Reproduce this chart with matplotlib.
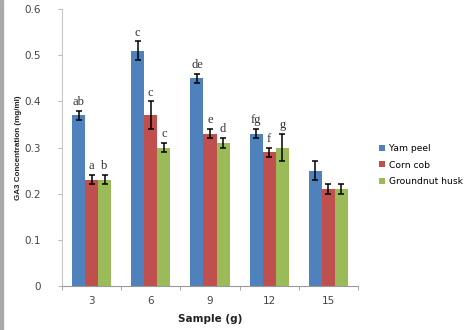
import numpy as np
import matplotlib.pyplot as plt
from matplotlib.patches import Rectangle

# GA3 yield per sample mass, three substrates
samples = ["3", "6", "9", "12", "15"]
yam_peel = [0.37, 0.51, 0.45, 0.33, 0.25]
yam_err = [0.01, 0.02, 0.01, 0.01, 0.02]
corn_cob = [0.23, 0.37, 0.33, 0.29, 0.21]
corn_err = [0.01, 0.03, 0.01, 0.01, 0.01]
groundnut = [0.23, 0.30, 0.31, 0.30, 0.21]
groundnut_err = [0.01, 0.01, 0.01, 0.03, 0.01]

# significance letters (empty = none shown)
yam_letters = ["ab", "c", "de", "fg", ""]
corn_letters = ["a", "c", "e", "f", ""]
groundnut_letters = ["b", "c", "d", "g", ""]

reihen = [
    ("Yam peel", yam_peel, yam_err, yam_letters, "#4F81BD"),
    ("Corn cob", corn_cob, corn_err, corn_letters, "#C0504D"),
    ("Groundnut husk", groundnut, groundnut_err, groundnut_letters, "#9BBB59"),
]

plt.rcParams["font.family"] = ["DejaVu Sans"]

fig = plt.figure(figsize=(4.74, 3.30), dpi=100)
ax = fig.add_axes([62 / 474, 44 / 330, 296 / 474, 277 / 330])

x = np.arange(len(samples))
breite = 0.22
for i, (name, werte, fehler, buchst, farbe) in enumerate(reihen):
    pos = x + (i - 1) * breite
    ax.bar(pos, werte, breite, color=farbe, label=name, zorder=2)
    ax.errorbar(pos, werte, yerr=fehler, fmt="none", ecolor="black",
                elinewidth=1.1, capsize=2.5, capthick=1.1, zorder=3)
    for p, w, f, b in zip(pos, werte, fehler, buchst):
        if b:
            ax.text(p, w + f + 0.006, b, ha="center", va="bottom",
                    family="Liberation Serif", fontsize=9, color="#333333")

ax.set_xlim(-0.5, len(samples) - 0.5)
ax.set_ylim(0, 0.6)
ax.set_yticks(np.arange(0, 0.61, 0.1))
ax.set_yticklabels(["0", "0.1", "0.2", "0.3", "0.4", "0.5", "0.6"])
ax.set_xticks(x)
ax.set_xticklabels(samples)
ax.set_xticks(np.arange(-0.5, len(samples)), minor=True)
ax.tick_params(axis="x", which="major", length=0, pad=7)
ax.tick_params(axis="x", which="minor", length=3, color="#999999")
ax.tick_params(axis="y", length=3, color="#BBBBBB", pad=12)
ax.tick_params(labelsize=7.5, labelcolor="#444444")

for s in ["top", "right"]:
    ax.spines[s].set_visible(False)
ax.spines["left"].set_color("#C8C8C8")
ax.spines["bottom"].set_color("#999999")

ax.set_xlabel("Sample (g)", fontsize=7.5, fontweight="bold", color="#222222")
ax.xaxis.set_label_coords(0.5, -28 / 277)
ax.set_ylabel("GA3 Concentration (mg/ml)", fontsize=5.8, fontweight="bold",
              family="Liberation Sans", color="#222222")
ax.yaxis.set_label_coords(-40 / 296, 0.5)

ax.legend(loc="center left", bbox_to_anchor=(371 / 474, 1 - 165 / 330),
          bbox_transform=fig.transFigure, frameon=False, fontsize=6.6,
          handlelength=0.6, handleheight=0.6, handletextpad=0.5, labelspacing=0.8)

# grey frame strip on the left edge
fig.patches.append(Rectangle((0, 0), 3 / 474, 1, transform=fig.transFigure,
                             color="#AAAAAA", zorder=0))

fig.savefig("out.png", dpi=100)
